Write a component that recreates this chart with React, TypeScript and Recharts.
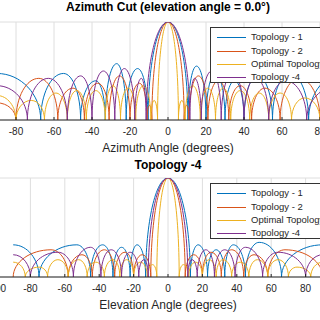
import React from 'react';
import { LineChart, Line, XAxis, YAxis, CartesianGrid } from 'recharts';

type Pt = [number, number];

// Series identity
const seriesNames = ['Topology - 1', 'Topology - 2', 'Optimal Topology', 'Topology -4'];
const seriesColors = ['#0072BD', '#D95319', '#EDB120', '#7E2F8E'];

// Axis ticks
const azimuthTicks = [-80, -60, -40, -20, 0, 20, 40, 60, 80];
const elevationTicks = [-100, -80, -60, -40, -20, 0, 20, 40, 60, 80, 100];
const levelTicks = [-40, -30, -20, -10, 0];

// Azimuth cut: [angle (deg), normalized power (dB)] at lobe peaks and nulls
const azTopology1: Pt[] = [[-90,-21],[-67,-40],[-55,-21],[-46,-40],[-38,-24],[-33,-40],[-27,-17],[-22,-40],[-16,-19],[-10.5,-40],[0,0],[10.5,-40],[15,-18],[20,-40],[25,-21],[30,-40],[35,-24],[40,-40],[47,-22],[55,-40],[64,-21],[74,-40],[90,-22]];
const azTopology2: Pt[] = [[-90,-33],[-80,-40],[-68,-23],[-58,-40],[-50,-27],[-44,-40],[-37,-25],[-31,-40],[-25.5,-22],[-20,-40],[-15,-25],[-11,-40],[-9.8,-34],[-8.5,-40],[0,0],[8.5,-40],[9.8,-34],[11,-40],[16,-22],[21,-40],[26.5,-24],[32,-40],[38,-26],[44,-40],[51,-27],[59,-40],[69,-23],[80,-40],[90,-32]];
const azOptimal: Pt[] = [[-90,-30],[-80,-40],[-72,-32],[-65,-40],[-59,-29],[-53,-40],[-48,-28],[-43,-40],[-38,-28],[-33,-40],[-29,-26],[-25,-40],[-21,-27],[-17,-40],[-13,-26],[-9,-40],[-7.3,-32],[-5.5,-40],[0,0],[5.5,-40],[7.3,-32],[9,-40],[13,-26],[17,-40],[21,-27],[25,-40],[29,-27],[33,-40],[38,-28],[43,-40],[48,-29],[53,-40],[59,-29],[65,-40],[72,-31],[80,-40],[90,-30]];
const azTopology4: Pt[] = [[-90,-26],[-74,-40],[-63,-23],[-53,-40],[-46,-22],[-40,-40],[-34,-20],[-28,-40],[-23,-19],[-17.5,-40],[-14,-23],[-11.5,-40],[0,0],[11.5,-40],[14,-23],[17.5,-40],[23,-20],[28,-40],[34,-21],[40,-40],[46,-23],[53,-40],[62,-24],[73,-40],[90,-26]];

// Elevation cut
const elTopology1: Pt[] = [[-90,-27],[-75,-40],[-53,-27],[-45,-40],[-38,-27],[-32,-40],[-27,-28],[-22,-40],[-18,-27],[-13,-40],[0,0],[13,-40],[17.5,-27],[23,-40],[28,-29],[33,-40],[38,-27],[45,-40],[53,-26],[66,-40],[90,-27]];
const elTopology2: Pt[] = [[-90,-40],[-68,-29],[-58,-40],[-50,-31],[-44,-40],[-37,-29],[-31,-40],[-25,-30],[-20,-40],[-15,-31],[-10,-40],[0,0],[10,-40],[15,-31],[20,-40],[25,-30],[31,-40],[37,-29],[44,-40],[50,-31],[58,-40],[68,-29],[90,-40]];
const elOptimal: Pt[] = [[-90,-34],[-83,-40],[-75,-36],[-70,-40],[-64,-33],[-58,-40],[-52,-33],[-47,-40],[-42,-34],[-37,-40],[-32,-33],[-28,-40],[-24,-33],[-20,-40],[-16,-34],[-12,-40],[-9,-35],[-6.5,-40],[0,0],[6.5,-40],[9,-35],[12,-40],[16,-34],[20,-40],[24,-33],[28,-40],[32,-33],[37,-40],[42,-34],[47,-40],[52,-33],[58,-40],[64,-33],[70,-40],[75,-36],[83,-40],[90,-34]];
const elTopology4: Pt[] = [[-90,-31],[-80,-40],[-64,-30],[-55,-40],[-45,-28],[-39,-40],[-33,-29],[-27,-40],[-22,-30],[-17,-40],[-14,-33],[-11.5,-40],[0,0],[11.5,-40],[14,-33],[17,-40],[22,-29],[27,-40],[33,-29],[39,-40],[45,-28],[55,-40],[64,-30],[80,-40],[90,-31]];

const toRows = (pts: Pt[]) => pts.map(([x, y]) => ({ x, y }));

// Custom curve: each lobe drawn as arches (vertical at nulls, flat at peaks)
function lobeCurve(context: any) {
  let px = 0, py = 0, n = 0;
  const k = 0.55;
  return {
    areaStart() {},
    areaEnd() {},
    lineStart() { n = 0; },
    lineEnd() {},
    point(xIn: number, yIn: number) {
      const x = +xIn, y = +yIn;
      if (n === 0) {
        context.moveTo(x, y);
      } else if (py > y) {
        context.bezierCurveTo(px, py + k * (y - py), x - k * (x - px), y, x, y);
      } else if (py < y) {
        context.bezierCurveTo(px + k * (x - px), py, x, y - k * (y - py), x, y);
      } else {
        context.lineTo(x, y);
      }
      px = x; py = y; n++;
    },
  };
}

const FONT = 'Liberation Sans, Arial, sans-serif';
const INK = '#262626';
const ROW_TOPS = [3, 17, 30, 43];

function Legend({ top }: { top: number }) {
  return (
    <div style={{ position: 'absolute', left: 210, top, width: 130, height: 56, boxSizing: 'border-box', border: '1px solid #333', background: '#fff' }}>
      {seriesNames.map((name, i) => (
        <div key={name} style={{ position: 'absolute', left: 0, top: ROW_TOPS[i], height: 12, display: 'flex', alignItems: 'center' }}>
          <div style={{ width: 29, height: 1, background: seriesColors[i], marginLeft: 6, marginRight: 5 }} />
          <span style={{ fontFamily: FONT, fontSize: 9.5, lineHeight: '12px', color: INK, whiteSpace: 'nowrap' }}>{name}</span>
        </div>
      ))}
    </div>
  );
}

function Panel(props: {
  label: string; ticks: number[]; domain: [number, number];
  series: Pt[][]; left: number; top: number; width: number; marginTop: number; axisHeight: number; labelOffset: number;
}) {
  const { series, ticks, domain } = props;
  return (
    <div style={{ position: 'absolute', left: props.left, top: props.top }}>
      <LineChart width={props.width} height={160} margin={{ top: props.marginTop, right: 0, bottom: 0, left: 0 }}>
        <CartesianGrid stroke="#dedede" strokeWidth={1} />
        <XAxis
          dataKey="x" type="number" domain={domain} ticks={ticks} interval={0}
          allowDataOverflow height={props.axisHeight}
          tick={{ fontSize: 10, fill: INK, fontFamily: FONT }}
          tickSize={-3} tickMargin={11}
          stroke={INK}
          label={{ value: props.label, position: 'insideBottom', offset: props.labelOffset, fontSize: 12, fill: INK, fontFamily: FONT }}
        />
        <YAxis type="number" domain={[-40, 0]} ticks={levelTicks} width={0} tick={false} axisLine={false} tickLine={false} allowDataOverflow />
        {series.map((pts, i) => (
          <Line key={i} data={toRows(pts)} dataKey="y" type={lobeCurve as any} stroke={seriesColors[i]} strokeWidth={1}
            dot={false} activeDot={false} isAnimationActive={false} />
        ))}
      </LineChart>
    </div>
  );
}

export default function App() {
  return (
    <div style={{ position: 'fixed', left: 0, top: 0, width: 320, height: 320, overflow: 'hidden', background: '#fff' }}>
      <Panel label="Azimuth Angle (degrees)" ticks={azimuthTicks} domain={[-90, 90]}
        series={[azTopology1, azTopology2, azOptimal, azTopology4]}
        left={-3} top={0} width={342} marginTop={22} axisHeight={40} labelOffset={8} />
      <Panel label="Elevation Angle (degrees)" ticks={elevationTicks} domain={[-100, 100]}
        series={[elTopology1, elTopology2, elOptimal, elTopology4]}
        left={-4} top={160} width={344} marginTop={18} axisHeight={43} labelOffset={11} />
      <div style={{ position: 'absolute', left: 0, width: 336, top: 0, textAlign: 'center', fontFamily: FONT, fontWeight: 'bold', fontSize: 12, color: '#000', lineHeight: '14px' }}>
        Azimuth Cut (elevation angle = 0.0°)
      </div>
      <div style={{ position: 'absolute', left: 0, width: 336, top: 158, textAlign: 'center', fontFamily: FONT, fontWeight: 'bold', fontSize: 12, color: '#000', lineHeight: '14px' }}>
        Topology -4
      </div>
      <Legend top={27} />
      <Legend top={183} />
    </div>
  );
}
